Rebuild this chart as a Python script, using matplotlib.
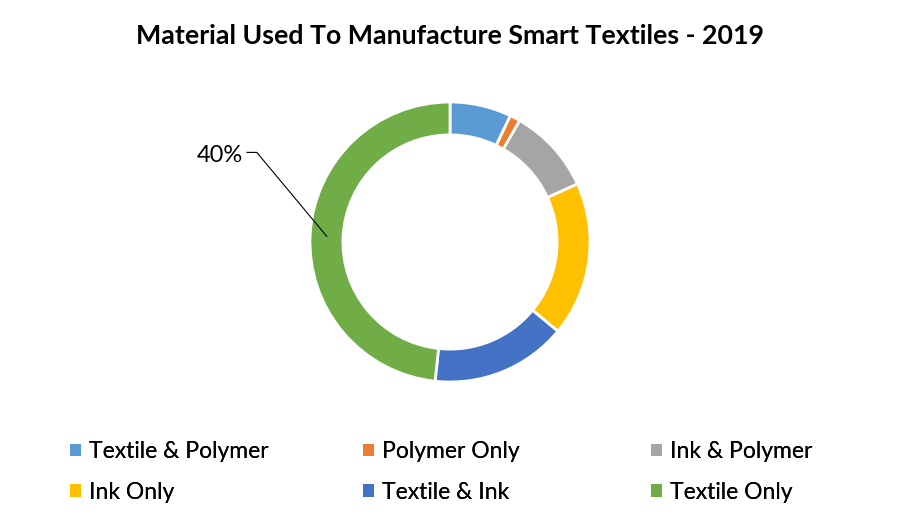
import matplotlib.pyplot as plt
from matplotlib.patches import Patch

categories = ["Textile & Polymer", "Polymer Only", "Ink & Polymer",
              "Ink Only", "Textile & Ink", "Textile Only"]
shares = [7.1, 1.2, 9.9, 17.8, 15.7, 48.3]
colors = ["#5B9BD5", "#ED7D31", "#A5A5A5", "#FFC000", "#4472C4", "#70AD47"]
label_text = "40%"

plt.rcParams['font.family'] = ['Lato', 'DejaVu Sans']

fig = plt.figure(figsize=(9, 5.25), dpi=100)
fig.patch.set_facecolor("white")

ax = fig.add_axes([310 / 900, 143 / 525, 280 / 900, 280 / 525])
wedges, _ = ax.pie(shares, colors=colors, startangle=90, counterclock=False,
                   radius=1.0,
                   wedgeprops=dict(width=0.235, edgecolor="white", linewidth=2))
ax.set_xlim(-1, 1)
ax.set_ylim(-1, 1)
ax.set_aspect("equal")
ax.axis("off")

# leader line for the Textile Only label
ax.plot([-1.45, -1.38, -0.88], [0.64, 0.64, 0.04], color="black", lw=0.8,
        clip_on=False)
ax.text(-1.48, 0.62, label_text, ha="right", va="center", fontsize=17,
        color="black")

fig.text(0.5, 0.932, "Material Used To Manufacture Smart Textiles - 2019",
         ha="center", va="center", fontsize=19.3, fontweight="bold")

# legend: three columns, filled row by row
col_x = [70 / 900, 363 / 900, 651 / 900]
for i, x in enumerate(col_x):
    idx = [i, i + 3]
    leg = fig.legend([Patch(facecolor=colors[j], edgecolor="none") for j in idx],
                     [categories[j] for j in idx],
                     loc="center left", bbox_to_anchor=(x, 0.101),
                     frameon=False, fontsize=16.5, borderpad=0,
                     borderaxespad=0,
                     handlelength=0.48, handleheight=0.48, handletextpad=0.35,
                     labelspacing=0.85)
    fig.add_artist(leg)

fig.savefig("out.png", dpi=100, facecolor="white")
